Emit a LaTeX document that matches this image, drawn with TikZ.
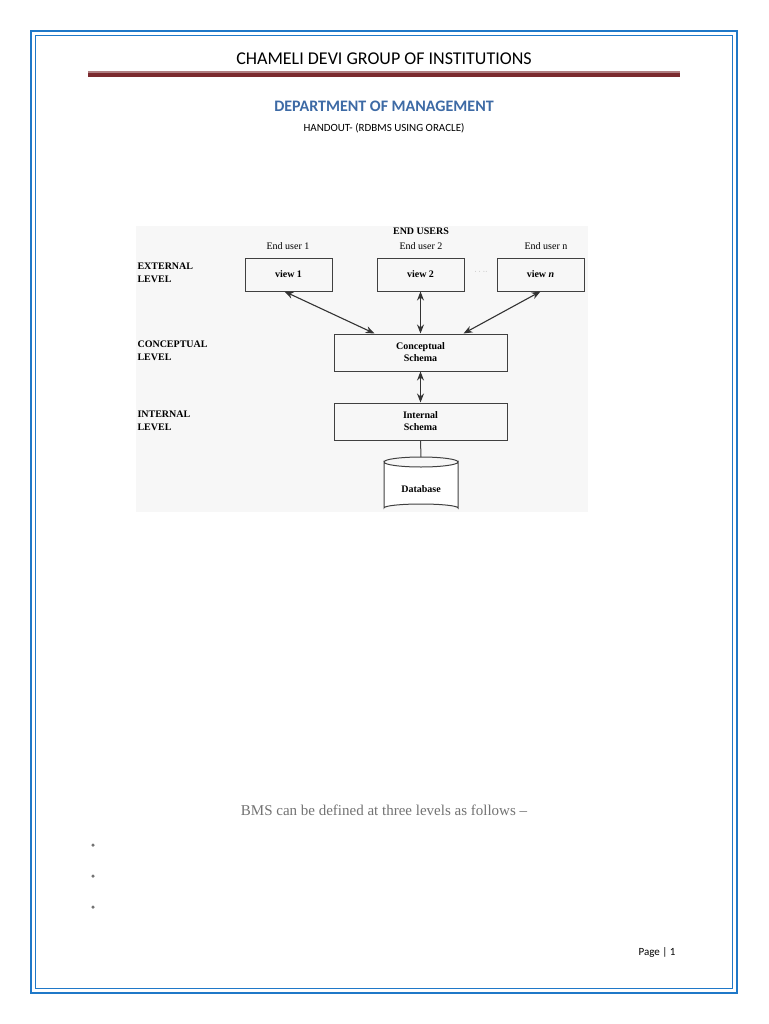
\documentclass[tikz,border=0pt]{standalone}
\usepackage{fontspec}
\setmainfont{Carlito}
\newfontfamily\tnr{Liberation Serif}
\usetikzlibrary{arrows.meta,shapes.geometric}
\definecolor{frameblue}{HTML}{1F78C8}
\definecolor{darkred}{HTML}{7B2A2E}
\definecolor{deptblue}{HTML}{3D6AA5}
\definecolor{diagbg}{HTML}{F7F7F7}
\begin{document}
\begin{tikzpicture}[x=1pt,y=-1pt,
  box/.style={draw=black!75,line width=1pt,minimum width=#1,minimum height=33pt,inner sep=0pt,font=\tnr\bfseries\fontsize{10}{12}\selectfont,align=center},
  box/.default=87pt,
  lvl/.style={anchor=west,font=\tnr\bfseries\fontsize{10}{12.5}\selectfont,align=left},
  usr/.style={font=\tnr\fontsize{10}{12}\selectfont},
  arr/.style={{Stealth[length=9pt,width=7pt]}-{Stealth[length=9pt,width=7pt]},line width=1.1pt,draw=black!80}]
\useasboundingbox (0,0) rectangle (768,1024);
\fill[white] (0,0) rectangle (768,1024);
% page frame
\draw[frameblue,line width=2pt] (31,31) rectangle (737,993);
\draw[frameblue,line width=0.8pt] (35.5,35.5) rectangle (732.5,988.5);
% header
\node[font=\fontsize{18}{20}\selectfont] (title) at (384,59) {CHAMELI DEVI GROUP OF INSTITUTIONS};
\fill[darkred!60] (88,71) rectangle (680,73);
\fill[darkred] (88,73) rectangle (680,77);
\node[font=\bfseries\fontsize{16}{18}\selectfont,text=deptblue] (dept) at (384,106) {DEPARTMENT OF MANAGEMENT};
\node[font=\fontsize{11}{13}\selectfont] (handout) at (384,128) {HANDOUT- (RDBMS USING ORACLE)};
% diagram
\fill[diagbg] (136,226) rectangle (588,512);
\node[font=\tnr\bfseries\fontsize{10}{12}\selectfont] (eu) at (421,231) {END USERS};
\node[usr] (u1) at (288,246) {End user 1};
\node[usr] (u2) at (421,246) {End user 2};
\node[usr] (un) at (546,246) {End user n};
\node[box] (v1) at (288.5,274.5) {view 1};
\node[box] (v2) at (420.5,274.5) {view 2};
\node[box] (vn) at (540.5,274.5) {view \textit{n}};
\node[font=\tnr\fontsize{7}{8}\selectfont,text=black!50] (dots) at (481,272) {$\cdot\cdot\cdot\cdot$};
\node[box=173pt,minimum height=37pt] (cs) at (420.5,352.5) {Conceptual\\Schema};
\node[box=173pt,minimum height=37pt] (is) at (420.5,421.5) {Internal\\Schema};
\node[lvl] (l1) at (134,273) {EXTERNAL\\LEVEL};
\node[lvl] (l2) at (134,351) {CONCEPTUAL\\LEVEL};
\node[lvl] (l3) at (134,421) {INTERNAL\\LEVEL};
% database cylinder
\coordinate (dbt) at (421,457);
\draw[black!75,line width=1pt,fill=white] (384,462) -- (384,508) arc[start angle=180,end angle=360,x radius=37,y radius=4] -- (458,462) arc[start angle=0,end angle=180,x radius=37,y radius=5] -- cycle;
\draw[black!75,line width=1pt] (384,462) arc[start angle=180,end angle=360,x radius=37,y radius=5];
\node[font=\tnr\bfseries\fontsize{10}{12}\selectfont] (db) at (421,489) {Database};
\draw[black!75,line width=1pt] (is.south) -- (dbt);
\draw[arr] ([xshift=-4pt]v1.south) -- ([xshift=-46pt]cs.north);
\draw[arr] (v2.south) -- (cs.north);
\draw[arr] (vn.south) -- ([xshift=43pt]cs.north);
\draw[arr] (cs.south) -- (is.north);
% bottom text
\node[font=\tnr\fontsize{15}{17}\selectfont,text=black!55] (bms) at (384,810) {BMS can be defined at three levels as follows –};
\foreach \yy/\nm in {845/b1,876/b2,907/b3}
  \node[circle,fill=black!55,inner sep=0pt,minimum size=3.5pt] (\nm) at (93,\yy) {};
\node[font=\fontsize{11}{13}\selectfont,anchor=east] (pg) at (679,952) {Page | 1};
\end{tikzpicture}
\end{document}
